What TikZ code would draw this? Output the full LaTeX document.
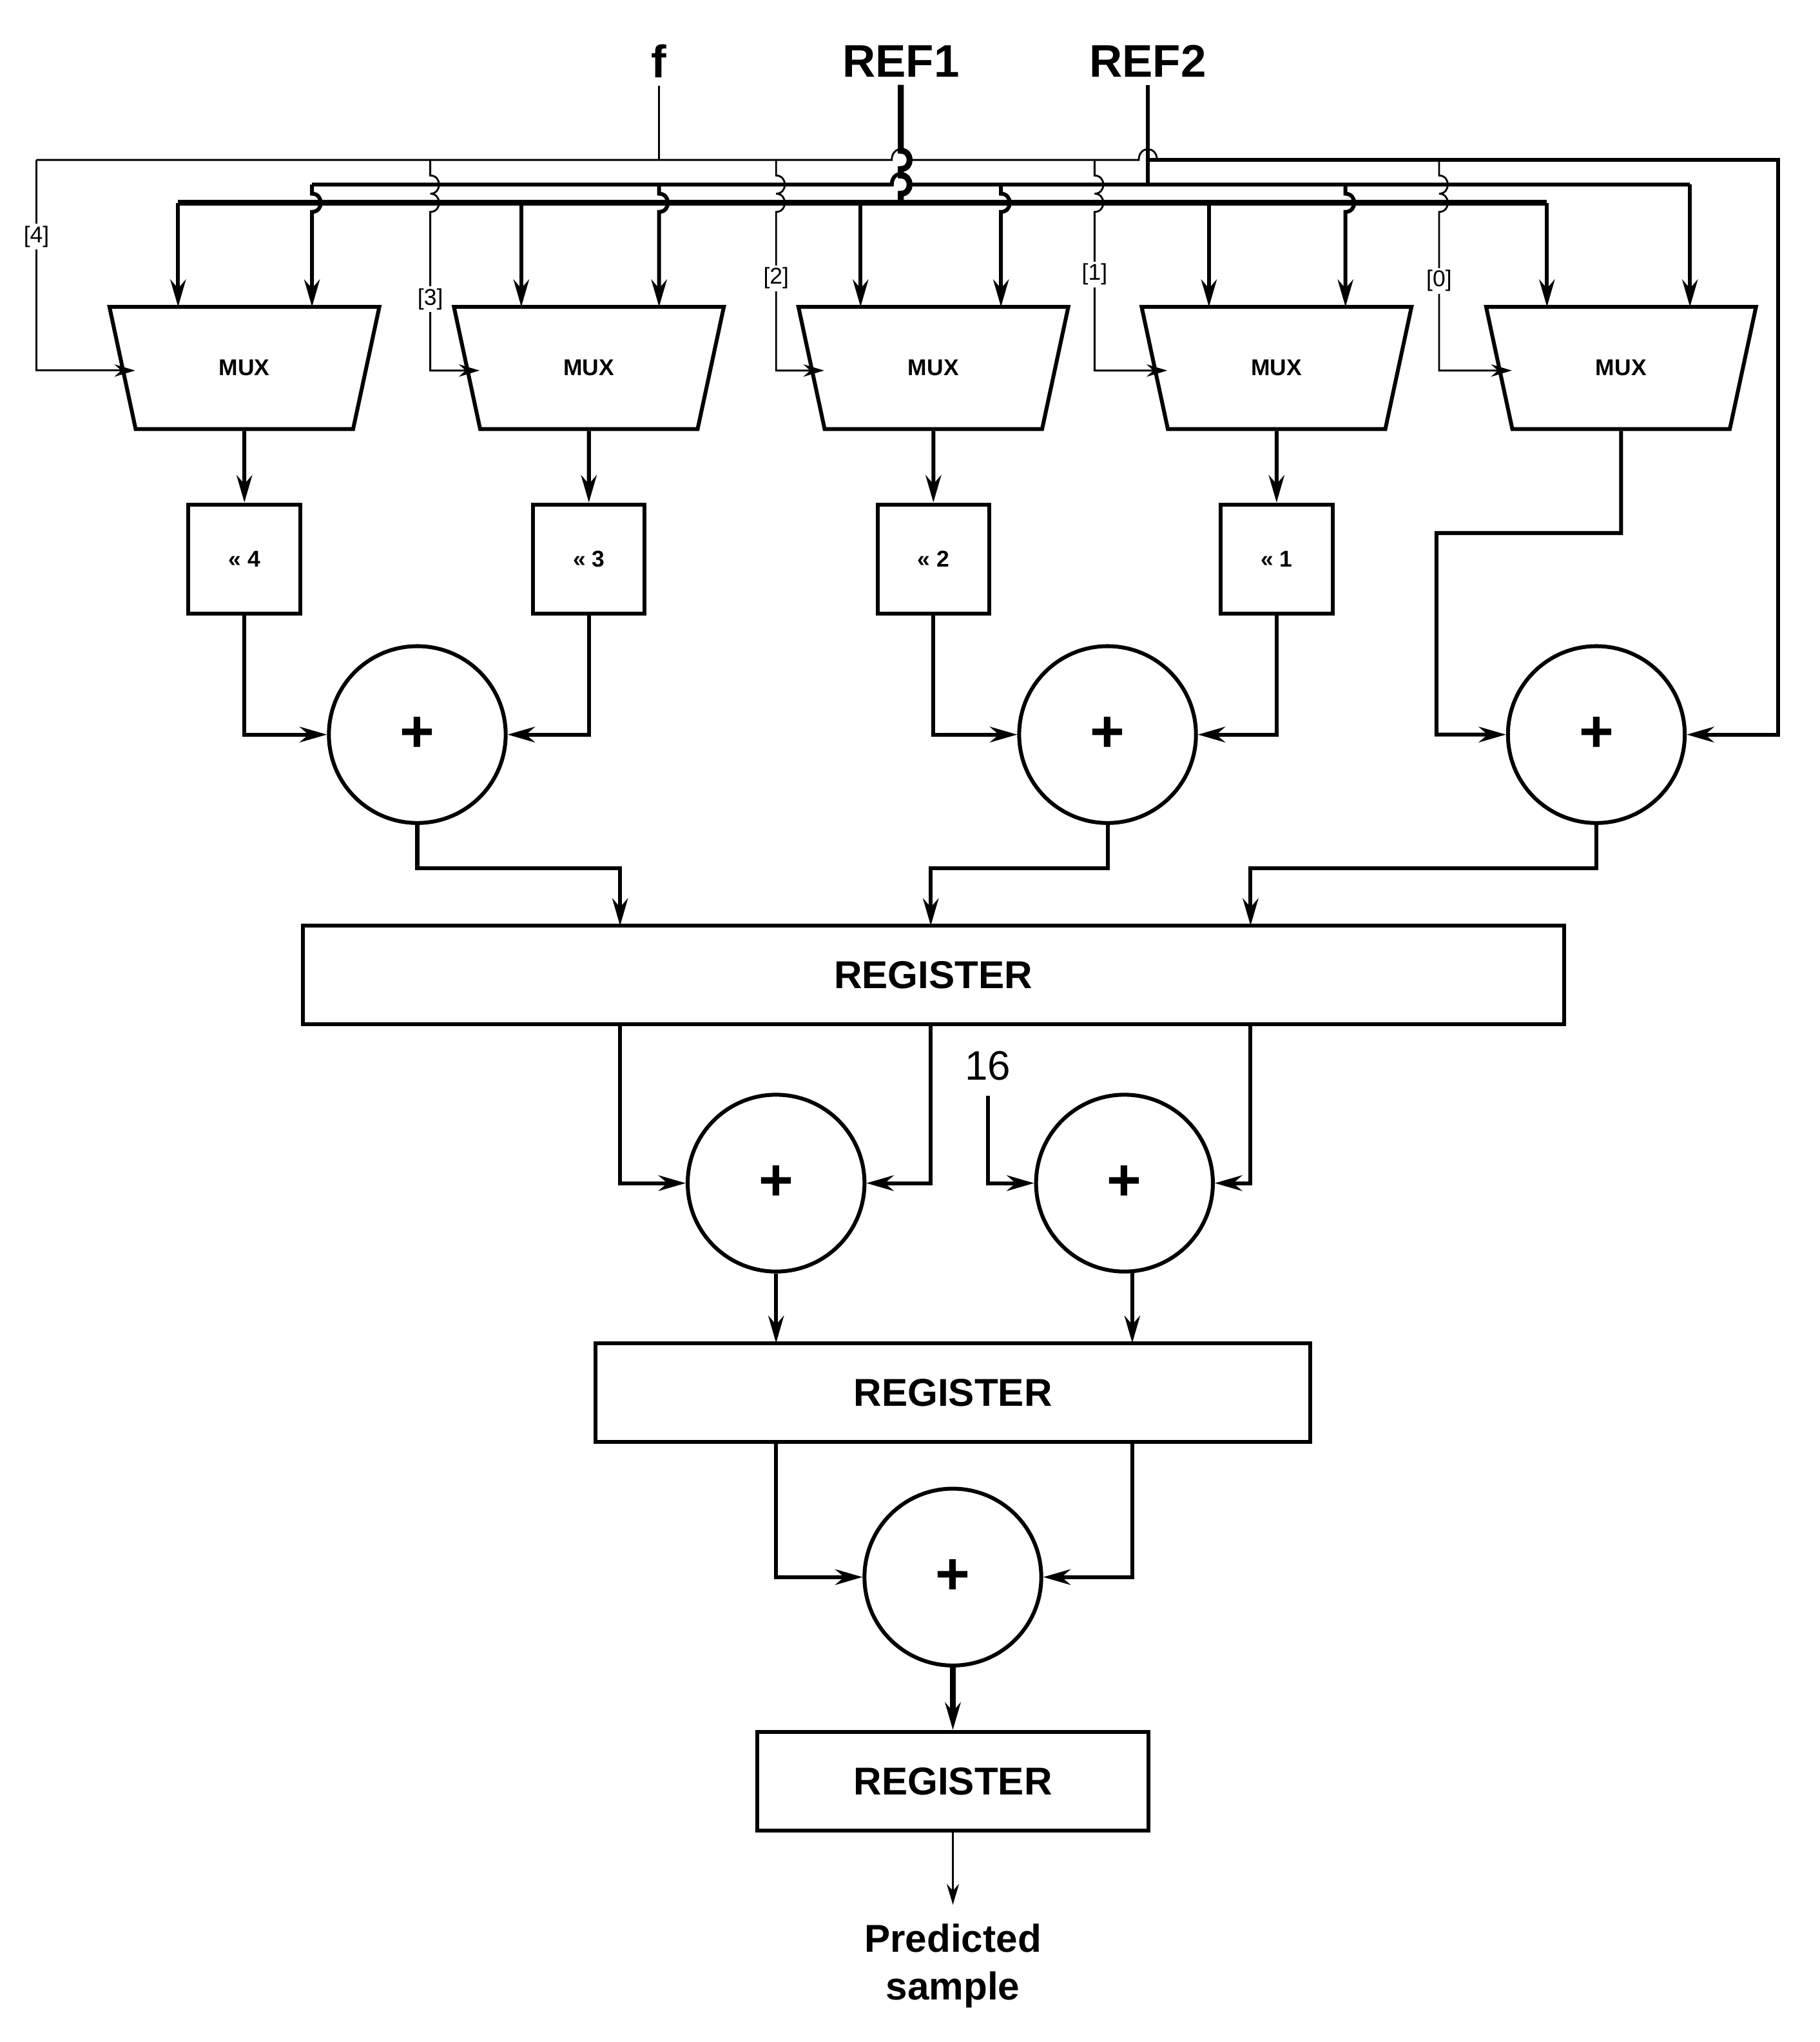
\documentclass[tikz,border=0pt]{standalone}
\usepackage{fontspec}
\setmainfont{Liberation Sans}
\usetikzlibrary{shapes.geometric,arrows.meta,calc}

\tikzset{
  wire/.style={line width=0.8pt},
  bus/.style={line width=1.7pt},
  fat/.style={line width=2.6pt},
  tip/.style={-{Stealth[length=4.2mm,width=2.4mm]}},
  small tip/.style={-{Stealth[length=3.2mm,width=1.9mm]}},
  mux/.style={draw,line width=1.7pt,trapezium,shape border rotate=180,trapezium angle=69,
    trapezium stretches=true,minimum width=41.6mm,minimum height=18.8mm,inner sep=0pt,
    font=\bfseries\fontsize{10}{12}\selectfont},
  shifter/.style={draw,line width=1.7pt,minimum width=17.2mm,minimum height=16.8mm,inner sep=0pt,
    font=\bfseries\fontsize{10}{12}\selectfont},
  adder/.style={draw,circle,line width=1.7pt,minimum size=27.2mm,inner sep=0pt,
    font=\bfseries\fontsize{26}{30}\selectfont},
  reg/.style={draw,line width=1.7pt,minimum height=15.2mm,inner sep=0pt,
    font=\bfseries\fontsize{17}{20}\selectfont},
  bit/.style={fill=white,inner sep=1pt,font=\fontsize{10}{12}\selectfont},
  % hops: vertical line jumping a horizontal one, and the other way round
  vhop/.style args={#1/#2}{insert path={-- (#1,#2-7) .. controls (#1+9,#2-7) and (#1+9,#2+7) .. (#1,#2+7)}},
  hhop/.style args={#1/#2}{insert path={-- (#1-7,#2) .. controls (#1-7,#2-11) and (#1+7,#2-11) .. (#1+7,#2)}},
}

\begin{document}
\begin{tikzpicture}[x=0.2mm,y=-0.2mm]
  \useasboundingbox (0,0) rectangle (1400,1570.6);

  % inputs
  \node[font=\bfseries\fontsize{20}{24}\selectfont] (f) at (507,47) {f};
  \node[font=\bfseries\fontsize{20}{24}\selectfont] (ref1) at (693,47) {REF1};
  \node[font=\bfseries\fontsize{20}{24}\selectfont] (ref2) at (883,47) {REF2};

  % multiplexers, shifters, adders
  \node[mux] (m4) at (188,283) {MUX};
  \node[mux] (m3) at (453,283) {MUX};
  \node[mux] (m2) at (718,283) {MUX};
  \node[mux] (m1) at (982,283) {MUX};
  \node[mux] (m0) at (1247,283) {MUX};
  \node[shifter] (s4) at (188,430) {<< 4};
  \node[shifter] (s3) at (453,430) {<< 3};
  \node[shifter] (s2) at (718,430) {<< 2};
  \node[shifter] (s1) at (982,430) {<< 1};
  \node[adder] (a1) at (321,565) {+};
  \node[adder] (a2) at (852,565) {+};
  \node[adder] (a3) at (1228,565) {+};
  \node[reg,minimum width=194mm] (r1) at (718,750) {REGISTER};
  \node[adder] (a4) at (597,910) {+};
  \node[adder] (a5) at (865,910) {+};
  \node[reg,minimum width=110mm] (r2) at (733,1071) {REGISTER};
  \node[adder] (a6) at (733,1213) {+};
  \node[reg,minimum width=60.2mm] (r3) at (733,1370) {REGISTER};
  \node[font=\bfseries\fontsize{17}{21}\selectfont,align=center] (out) at (733,1512) {Predicted\\sample};
  \node[font=\fontsize{18}{22}\selectfont] (sixteen) at (760,820) {16};

  % f bus and its bits
  \draw[wire] (f.south) -- (507,123);
  \draw[wire] (28,123) [hhop=693/123] [hhop=883/123] -- (1107,123);
  \draw[wire,small tip] (28,123) -- (28,285) -- ($(m4)+(-84,2)$);
  \draw[wire,small tip] (331,123) [vhop=331/142] [vhop=331/156] -- (331,285) -- ($(m3)+(-84,2)$);
  \draw[wire,small tip] (597,123) [vhop=597/142] [vhop=597/156] -- (597,285) -- ($(m2)+(-84,2)$);
  \draw[wire,small tip] (842,123) [vhop=842/142] [vhop=842/156] -- (842,285) -- ($(m1)+(-84,2)$);
  \draw[wire,small tip] (1107,123) [vhop=1107/142] [vhop=1107/156] -- (1107,285) -- ($(m0)+(-84,2)$);
  \node[bit] at (28,182) {[4]};
  \node[bit] at (331,230) {[3]};
  \node[bit] at (597,214) {[2]};
  \node[bit] at (842,211) {[1]};
  \node[bit] at (1107,216) {[0]};

  % REF1 bus
  \draw[fat] (ref1.south) [vhop=693/123] [vhop=693/142] -- (693,156);
  \draw[fat] (137,156) -- (1190,156);
  \foreach \x/\m in {137/m4,401/m3,662/m2,930/m1,1190/m0}
    \draw[bus,tip] (\x,156) -- (\x,236);

  % REF2 bus
  \draw[bus] (ref2.south) -- (883,142);
  \draw[bus] (240,142) [hhop=693/142] -- (1300,142);
  \foreach \x in {240,507,770,1035}
    \draw[bus,tip] (\x,142) [vhop=\x/156] -- (\x,236);
  \draw[bus,tip] (1300,142) -- (1300,236);
  \draw[bus,tip] (883,123) -- (1368,123) |- (a3.east);

  % mux outputs
  \draw[bus,tip] (m4.south) -- (s4.north);
  \draw[bus,tip] (m3.south) -- (s3.north);
  \draw[bus,tip] (m2.south) -- (s2.north);
  \draw[bus,tip] (m1.south) -- (s1.north);
  \draw[bus,tip] (m0.south) -- (1247,410) -- (1105,410) |- (a3.west);

  % first adders
  \draw[bus,tip] (s4.south) |- (a1.west);
  \draw[bus,tip] (s3.south) |- (a1.east);
  \draw[bus,tip] (s2.south) |- (a2.west);
  \draw[bus,tip] (s1.south) |- (a2.east);
  \coordinate (r1a) at (477,712);
  \coordinate (r1b) at (716,712);
  \coordinate (r1c) at (962,712);
  \draw[bus,tip] (a1.south) -- (321,668) -| (r1a);
  \draw[bus,tip] (a2.south) -- (852,668) -| (r1b);
  \draw[bus,tip] (a3.south) -- (1228,668) -| (r1c);

  % second stage
  \draw[bus,tip] (477,788) |- (a4.west);
  \draw[bus,tip] (716,788) |- (a4.east);
  \draw[bus,tip] (760,843) |- (a5.west);
  \draw[bus,tip] (962,788) |- (a5.east);
  \draw[bus,tip] (a4.south) -- (597,1033);
  \draw[bus,tip] (871,978) -- (871,1033);

  % third stage
  \draw[bus,tip] (597,1108) |- (a6.west);
  \draw[bus,tip] (871,1108) |- (a6.east);
  \draw[fat,tip] (a6.south) -- (r3.north);
  \draw[wire,small tip] (r3.south) -- (733,1465);
\end{tikzpicture}
\end{document}
